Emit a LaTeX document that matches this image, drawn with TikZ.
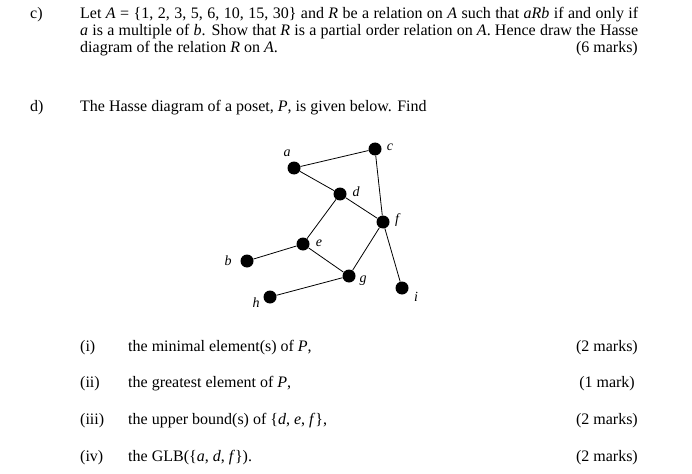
\documentclass[tikz,border=0pt]{standalone}
\usepackage{fontspec}
\setmainfont{Liberation Serif}
\begin{document}
\begin{tikzpicture}[x=1pt,y=-1pt,
  txt/.style={anchor=base west,inner sep=0pt,font=\fontsize{16}{19}\selectfont},
  rtxt/.style={anchor=base east,inner sep=0pt,font=\fontsize{16}{19}\selectfont},
  dot/.style={circle,fill=black,inner sep=0pt,minimum size=13pt},
  lbl/.style={font=\fontsize{14}{16}\selectfont\itshape,inner sep=1pt},
  edge/.style={line width=0.8pt}]
\useasboundingbox (0,0) rectangle (692,473);
\node[txt] (c0) at (30,19) {c)};
\node[txt] (c1) at (80,19) {\hbox to 558pt{Let \textit{A} = \{1, 2, 3, 5, 6, 10, 15, 30\} and \textit{R} be a relation on \textit{A} such that \textit{aRb} if and only if}};
\node[txt] (c2) at (80,36) {\hbox to 558pt{\textit{a} is a multiple of \textit{b}. Show that \textit{R} is a partial order relation on \textit{A}. Hence draw the Hasse}};
\node[txt] (c3) at (80,53) {diagram of the relation \textit{R} on \textit{A}.};
\node[rtxt] (c4) at (638,53) {(6 marks)};
\node[txt] (d0) at (30,112) {d)};
\node[txt] (d1) at (80,112) {The Hasse diagram of a poset, \textit{P}, is given below. Find};
\node[dot] (a) at (294,168) {};
\node[dot] (c) at (375,149) {};
\node[dot] (d) at (340,194) {};
\node[dot] (f) at (383,222) {};
\node[dot] (e) at (303,244) {};
\node[dot] (b) at (247,261) {};
\node[dot] (g) at (349,276) {};
\node[dot] (i) at (402,288) {};
\node[dot] (h) at (270,297) {};
\node[lbl] (la) at (287,153) {a};
\node[lbl] (lc) at (390,147) {c};
\node[lbl] (ld) at (356,192) {d};
\node[lbl] (lf) at (397,220) {f};
\node[lbl] (le) at (319,243) {e};
\node[lbl] (lb) at (228,261) {b};
\node[lbl] (lg) at (363,281) {g};
\node[lbl] (li) at (416,297) {i};
\node[lbl] (lh) at (256,303) {h};
\draw[edge] (a)--(c) (a)--(d) (d)--(f) (c)--(f) (d)--(e) (e)--(b) (e)--(g) (g)--(f) (f)--(i) (g)--(h);
\node[txt] (r1) at (80,351) {(i)};
\node[txt] (t1) at (128,351) {the minimal element(s) of \textit{P},};
\node[rtxt] (m1) at (638,351) {(2 marks)};
\node[txt] (r2) at (80,387) {(ii)};
\node[txt] (t2) at (128,387) {the greatest element of \textit{P},};
\node[rtxt] (m2) at (635,387) {(1 mark)};
\node[txt] (r3) at (80,424) {(iii)};
\node[txt] (t3) at (128,424) {the upper bound(s) of \{\textit{d}, \textit{e}, \textit{f}\},};
\node[rtxt] (m3) at (638,424) {(2 marks)};
\node[txt] (r4) at (80,461) {(iv)};
\node[txt] (t4) at (128,461) {the GLB(\{\textit{a}, \textit{d}, \textit{f}\}).};
\node[rtxt] (m4) at (638,461) {(2 marks)};
\end{tikzpicture}
\end{document}
